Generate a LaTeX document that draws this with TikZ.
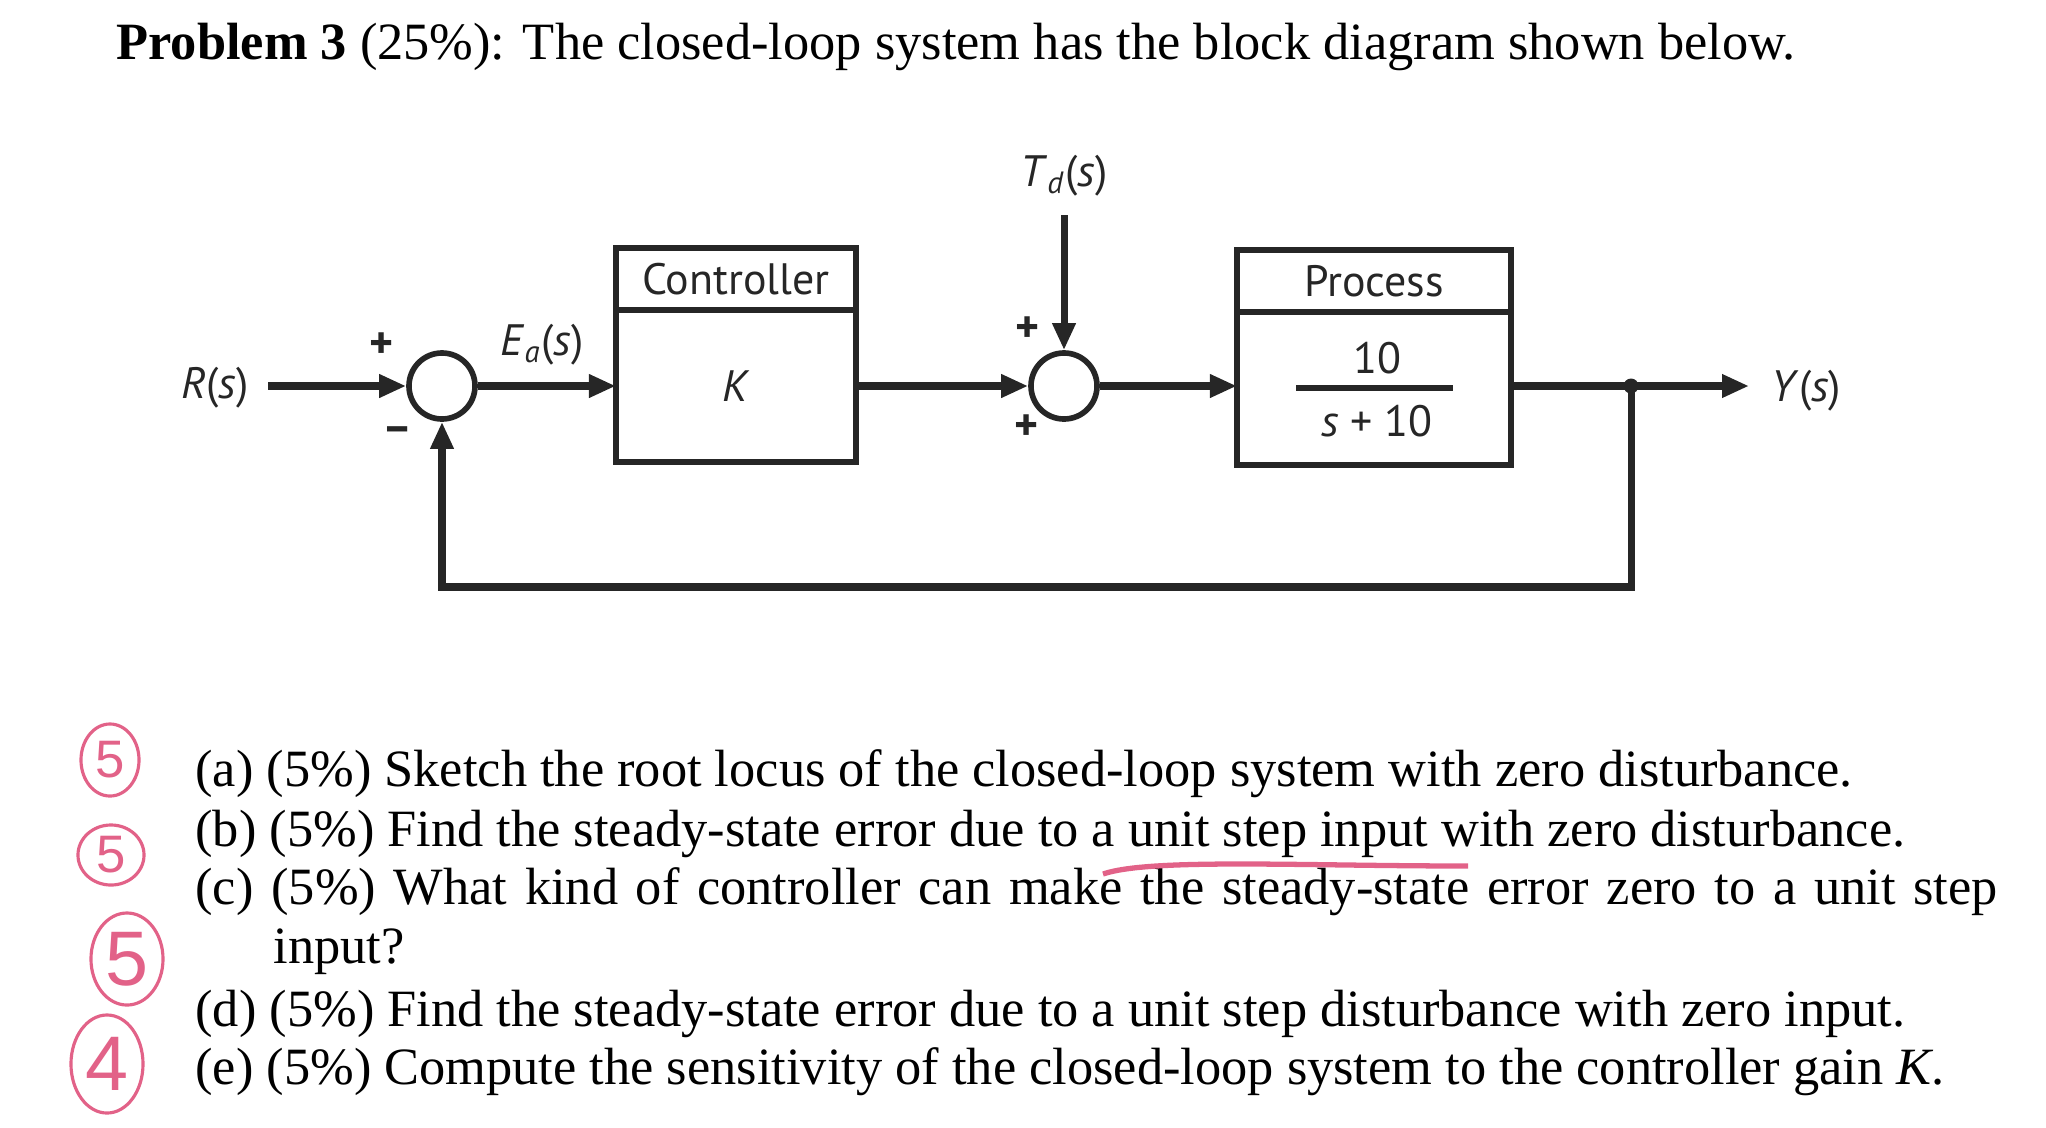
\documentclass[tikz,border=0pt]{standalone}
\usepackage{fontspec}
\setmainfont{Liberation Serif}
\newfontfamily\blockfont{PT Sans}
\newfontfamily\handfont{Liberation Sans}
\usepackage{tikz}
\usetikzlibrary{arrows.meta}
\usetikzlibrary{positioning}
\usetikzlibrary{shapes.geometric}
\definecolor{inkpink}{RGB}{226,98,136}
\definecolor{printgray}{RGB}{38,38,38}

\begin{document}
\begin{tikzpicture}[x=0.01cm,y=-0.01cm,>={Triangle[length=0.27cm,width=0.22cm]},
		line width=2pt,color=printgray,
		blk/.style={draw,line width=1.6pt,inner sep=0pt,outer sep=0pt,font=\blockfont\fontsize{12.5}{14}\selectfont},
		sumnode/.style={draw,circle,line width=1.6pt,minimum size=0.66cm,inner sep=0pt},
		lbl/.style={inner sep=0pt,font=\blockfont\fontsize{12.5}{14}\selectfont},
		sgn/.style={inner sep=0pt,font=\blockfont\bfseries\fontsize{13}{15}\selectfont},
		qtext/.style={anchor=base west,inner sep=0pt,text=black,font=\fontsize{14.9}{17}\selectfont},
		pinkcirc/.style={draw=inkpink,text=inkpink,ellipse,line width=0.9pt,inner sep=0pt,font=\handfont\fontsize{15}{17}\selectfont}]
			\useasboundingbox (0,0) rectangle (2046,1127);
			\node[anchor=base west,inner sep=0pt,text=black,font=\fontsize{14.9}{18}\selectfont] (title) at (113,59)
				{\textbf{Problem 3} (25\%): The closed-loop system has the block diagram shown below.};
			% blocks
			\node[blk,minimum width=2.40cm,minimum height=0.62cm] (ctrlhead) at (736,279) {Controller};
			\node[blk,minimum width=2.40cm,minimum height=1.52cm,below=0pt of ctrlhead] (ctrl) {\textit{K}};
			\node[blk,minimum width=2.74cm,minimum height=0.62cm] (prochead) at (1374,281) {Process};
			\node[blk,minimum width=2.74cm,minimum height=1.53cm,below=0pt of prochead] (proc) {};
			\node[lbl] (num) at (1377,358) {10};
			\node[lbl] (den) at (1377,421) {\textit{s} + 10};
			\draw[line width=1.6pt] (1296,388) -- (1453,388);
			% summing junctions
			\node[sumnode] (sum1) at (442,386) {};
			\node[sumnode] (sum2) at (1064,386) {};
			\node[sgn] (p1) at (382,346) {+};
			\node[sgn] (m1) at (398,435) {–};
			\node[sgn] (p2) at (1028,330) {+};
			\node[sgn] (p3) at (1027,428) {+};
			% signals
			\node[lbl] (rin) at (215,388) {\textit{R}(\textit{s})};
			\coordinate (rstart) at (268,386);
			\node[lbl] (ea) at (542,345) {\textit{E}\textsubscript{\textit{a}}(\textit{s})};
			\node[lbl] (td) at (1064,176) {\textit{T}\textsubscript{\textit{d}}(\textit{s})};
			\coordinate (tdstart) at (1064,215);
			\coordinate (yend) at (1749,386);
			\node[lbl,anchor=west] (yout) at (1768,391) {\textit{Y}(\textit{s})};
			\coordinate (branch) at (1631,386);
			\coordinate (fbcorner) at (1631,587);
			\draw[->] (rstart) -- (sum1);
			\draw[->] (sum1) -- (sum1 -| ctrl.west);
			\draw[->] (ctrl.east |- sum2) -- (sum2);
			\draw[->] (tdstart) -- (sum2);
			\draw[->] (sum2) -- (sum2 -| proc.west);
			\draw[->] (proc.east |- sum2) -- (yend);
			\fill (branch) circle (0.075cm);
			\draw[->] (branch) -- (fbcorner) -| (sum1);
			% questions
			\node[qtext] (qa) at (192,786) {(a) (5\%) Sketch the root locus of the closed-loop system with zero disturbance.};
			\node[qtext] (qb) at (192,846) {(b) (5\%) Find the steady-state error due to a unit step input with zero disturbance.};
			\node[qtext] (qc) at (192,904) {\makebox[18.01cm][s]{(c) (5\%) What kind of controller can make the steady-state error zero to a unit step}};
			\node[qtext] (qc2) at (270,963) {input?};
			\node[qtext] (qd) at (192,1026) {(d) (5\%) Find the steady-state error due to a unit step disturbance with zero input.};
			\node[qtext] (qe) at (192,1084) {(e) (5\%) Compute the sensitivity of the closed-loop system to the controller gain \textit{K}.};
			% grader marks
			\node[pinkcirc,minimum width=0.58cm,minimum height=0.72cm] (g1) at (110,760) {5};
			\node[pinkcirc,minimum width=0.66cm,minimum height=0.60cm] (g2) at (111,855) {5};
			\node[pinkcirc,minimum width=0.72cm,minimum height=0.92cm,font=\handfont\fontsize{22}{24}\selectfont] (g3) at (127,959) {5};
			\node[pinkcirc,minimum width=0.72cm,minimum height=0.98cm,font=\handfont\fontsize{22}{24}\selectfont] (g4) at (107,1064) {4};
			\draw[inkpink,line width=1.5pt] (1103,874) .. controls (1150,858) and (1300,866) .. (1468,866);
		\end{tikzpicture}
\end{document}
